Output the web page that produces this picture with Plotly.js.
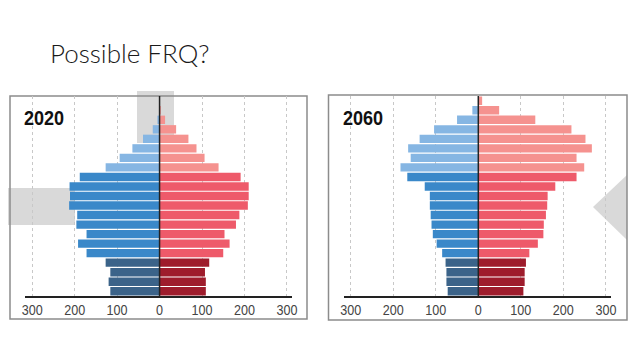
<!DOCTYPE html>
<html>
<head>
<meta charset="utf-8">
<script src="https://cdn.plot.ly/plotly-3.0.1.min.js"></script>
<style>html,body{margin:0;padding:0;background:#fff;}#chart{width:638px;height:359px;}</style>
</head>
<body>
<div id="chart"></div>
<script>
// ---- data (thousands, by 5-year age group, youngest first) ----
const ageGroups = ["0-4","5-9","10-14","15-19","20-24","25-29","30-34","35-39","40-44","45-49","50-54","55-59","60-64","65-69","70-74","75-79","80-84","85-89","90-94","95-99","100+"];
const male2020   = [116,120,116,127,172,192,172,196,194,213,211,212,188,127,94,64,39,16,5,1,1];
const female2020 = [109,109,107,117,150,165,153,180,188,208,210,210,191,139,106,87,68,39,13,3,1];
const male2060   = [72,75,75,77,85,98,107,110,112,114,114,126,167,183,159,165,138,104,50,14,1];
const female2060 = [106,109,109,112,120,140,153,154,159,162,163,181,231,249,231,267,252,219,134,49,9];
const tickVals = [-300,-200,-100,0,100,200,300];
const tickText = ["300","200","100","0","100","200","300"];
const yearLabels = ["2020","2060"];
const slideTitle = "Possible FRQ?";

// ---- styling ----
const W = 638, H = 359;
const px = x => x / W;
const py = y => 1 - y / H;
function groupColor(i, side) {
  if (i < 4) return side === 'm' ? '#3b6389' : '#9e1c2c';
  if (i < 13) return side === 'm' ? '#3a88c9' : '#ee5a6a';
  return side === 'm' ? '#86b6e3' : '#f5928f';
}
const mColors = ageGroups.map((_, i) => groupColor(i, 'm'));
const fColors = ageGroups.map((_, i) => groupColor(i, 'f'));

function barTrace(vals, neg, colors, xa, ya) {
  return {
    type: 'bar', orientation: 'h', y: ageGroups,
    x: vals.map(v => neg ? -v : v),
    marker: {color: colors, line: {width: 0}},
    xaxis: xa, yaxis: ya, hoverinfo: 'skip', showlegend: false
  };
}
const traces = [
  barTrace(male2020, true, mColors, 'x', 'y'),
  barTrace(female2020, false, fColors, 'x', 'y'),
  barTrace(male2060, true, mColors, 'x2', 'y2'),
  barTrace(female2060, false, fColors, 'x2', 'y2')
];

const tickFont = {family: 'Liberation Sans, Arial, sans-serif', size: 15, color: '#444'};
function xAxis(domain, anchor) {
  return {
    domain: domain, anchor: anchor, range: [-317, 312],
    tickvals: tickVals, ticktext: tickText, ticks: '', tickfont: tickFont,
    showgrid: true, gridcolor: '#c8c8c8', griddash: 'dot', gridwidth: 1,
    zeroline: false, showline: true, linecolor: '#222', linewidth: 1.5,
    fixedrange: true
  };
}
function yAxis(anchor) {
  return {
    domain: [py(296), py(96)], anchor: anchor, type: 'category',
    categoryorder: 'array', categoryarray: ageGroups,
    range: [-0.5, ageGroups.length - 0.5],
    showticklabels: false, ticks: '', showgrid: false, zeroline: false, showline: false,
    fixedrange: true
  };
}

const gray = '#d9d9d9';
const frameColor = '#8c8c8c';
const shapes = [
  {type: 'rect', xref: 'paper', yref: 'paper', x0: px(137), x1: px(174), y0: py(143), y1: py(91), fillcolor: gray, line: {width: 0}, layer: 'below'},
  {type: 'rect', xref: 'paper', yref: 'paper', x0: px(8), x1: px(75), y0: py(225), y1: py(188), fillcolor: gray, line: {width: 0}, layer: 'below'},
  {type: 'path', xref: 'paper', yref: 'paper', path: `M ${px(593)},${py(207)} L ${px(627)},${py(175)} L ${px(627)},${py(240)} Z`, fillcolor: gray, line: {width: 0}, layer: 'below'},
  {type: 'rect', xref: 'paper', yref: 'paper', x0: px(10), x1: px(307), y0: py(319), y1: py(96), line: {color: frameColor, width: 1.5}, layer: 'below'},
  {type: 'rect', xref: 'paper', yref: 'paper', x0: px(328.5), x1: px(627), y0: py(320), y1: py(95), line: {color: frameColor, width: 1.5}, layer: 'below'},
  {type: 'line', xref: 'x', yref: 'y domain', x0: 0, x1: 0, y0: 0, y1: 1, line: {color: '#222', width: 1.5}, layer: 'above'},
  {type: 'line', xref: 'x2', yref: 'y2 domain', x0: 0, x1: 0, y0: 0, y1: 1, line: {color: '#222', width: 1.5}, layer: 'above'}
];

const yearFont = {family: 'Liberation Sans, Arial, sans-serif', size: 21, color: '#111', weight: 'bold'};
const annotations = [
  {text: slideTitle, xref: 'paper', yref: 'paper', x: px(48), y: py(53), xanchor: 'left', yanchor: 'middle', showarrow: false,
   font: {family: 'Lato, Open Sans, sans-serif', size: 26, color: '#1a1a1a', weight: 300}},
  {text: yearLabels[0], xref: 'paper', yref: 'paper', x: px(22), y: py(118), xanchor: 'left', yanchor: 'middle', showarrow: false, font: yearFont},
  {text: yearLabels[1], xref: 'paper', yref: 'paper', x: px(341), y: py(118), xanchor: 'left', yanchor: 'middle', showarrow: false, font: yearFont}
];

const layout = {
  width: W, height: H, margin: {l: 0, r: 0, t: 0, b: 0},
  paper_bgcolor: '#fff', plot_bgcolor: 'rgba(0,0,0,0)',
  barmode: 'overlay', bargap: 0.12, showlegend: false,
  xaxis: xAxis([px(25), px(292)], 'y'),
  yaxis: yAxis('x'),
  xaxis2: xAxis([px(343.5), px(611)], 'y2'),
  yaxis2: yAxis('x2'),
  shapes: shapes, annotations: annotations
};

// condense text horizontally (the original uses a narrow typeface)
function condense(el, s, anchor) {
  const b = el.getBBox();
  const cx = anchor === 'left' ? b.x : b.x + b.width / 2;
  const old = el.getAttribute('transform') || '';
  el.setAttribute('transform', `${old} translate(${cx},0) scale(${s},1) translate(${-cx},0)`.trim());
}
Plotly.newPlot('chart', traces, layout, {staticPlot: true, displayModeBar: false}).then(gd => {
  gd.querySelectorAll('.xtick text, .x2tick text').forEach(t => condense(t, 0.84, 'center'));
  gd.querySelectorAll('.annotation-text').forEach(t => {
    if (yearLabels.includes(t.textContent)) condense(t, 0.86, 'left');
  });
});
</script>
</body>
</html>
